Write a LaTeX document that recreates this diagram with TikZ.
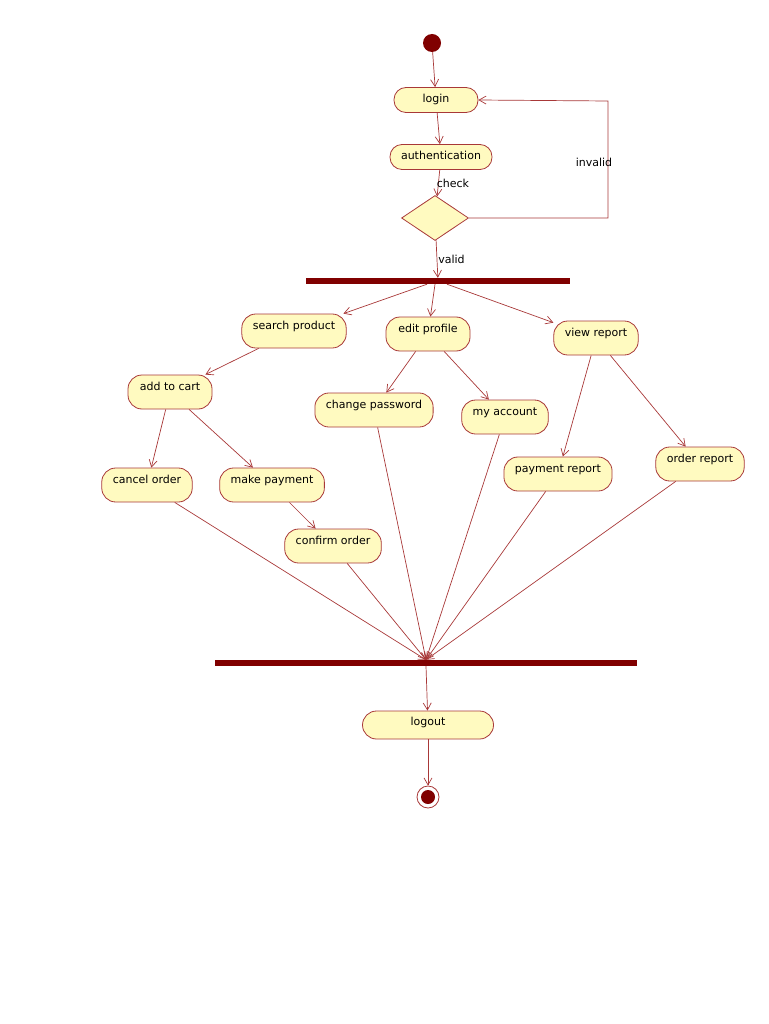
\documentclass[tikz,border=0pt]{standalone}
\usepackage{fontspec}
\setmainfont{DejaVu Sans}
\usetikzlibrary{arrows.meta, positioning, shapes.geometric}

\definecolor{actfill}{HTML}{FFFAC0}
\definecolor{linec}{HTML}{A83838}
\definecolor{barc}{HTML}{800000}

\tikzset{
  act/.style={draw=linec, fill=actfill, line width=0.8pt, rounded corners=14pt,
    minimum height=34pt, minimum width=84pt, inner xsep=11pt, inner ysep=0pt,
    text height=8pt, text depth=12pt, font=\fontsize{11}{13}\selectfont},
  low/.style={minimum height=25pt, rounded corners=12pt, text depth=2pt},
  bar/.style={fill=barc, inner sep=0pt, minimum height=6pt},
  flow/.style={color=linec, line width=0.7pt, -{Straight Barb[length=7pt,width=8pt]}},
  lbl/.style={font=\fontsize{11}{13}\selectfont, inner sep=1pt, text=black}
}

\begin{document}
\begin{tikzpicture}[x=1pt, y=-1pt, on grid]
    \useasboundingbox (0,0) rectangle (768,1024);
        \node[circle, fill=barc, minimum size=18pt, inner sep=0pt] (init) at (432,43) {};
        \node[act, low] (login) [below right=57pt and 4pt of init] {login};
        \node[act, low] (auth) [below right=57pt and 5pt of login] {authentication};
        \node[diamond, draw=linec, fill=actfill, line width=0.8pt, minimum width=67pt,
            minimum height=45pt, inner sep=0pt] (check) [below left=61pt and 6pt of auth] {};
        \node[bar, minimum width=264pt] (fork) [below right=63pt and 3pt of check] {};
        \node[act] (edit) [below left=53pt and 10pt of fork] {edit profile};
        \node[act] (search) [above left=3pt and 134pt of edit] {search product};
        \node[act] (view) [below right=4pt and 168pt of edit] {view report};
        \node[act] (cart) [below left=61pt and 124pt of search] {add to cart};
        \node[act] (cancel) [below left=93pt and 23pt of cart] {cancel order};
        \node[act] (pay) [below right=93pt and 102pt of cart] {make payment};
        \node[act] (confirm) [below right=61pt and 61pt of pay] {confirm order};
        \node[act] (passwd) [below left=76pt and 54pt of edit] {change password};
        \node[act] (account) [below right=83pt and 77pt of edit] {my account};
        \node[act] (payrep) [below left=136pt and 38pt of view] {payment report};
        \node[act] (ordrep) [below right=126pt and 104pt of view] {order report};
        \node[bar, minimum width=422pt] (join) [below left=382pt and 12pt of fork] {};
        \node[act, minimum height=28pt, minimum width=131pt, text depth=7pt] (logout)
            [below right=62pt and 2pt of join] {logout};
        \node[circle, draw=linec, fill=white, line width=0.8pt, minimum size=22pt,
            inner sep=0pt] (final) [below=72pt of logout] {};
        \fill[barc] (final) circle (7);
        \coordinate (loop) at (608,101);

        \path[flow]
        (init) edge (login)
        (login) edge (auth)
        (auth) edge node[right, lbl, xshift=-3pt] {check} (check)
        (check) edge node[right, lbl] {valid} (fork)
        ([xshift=-11pt]fork.south) edge (search)
        ([xshift=-3pt]fork.south) edge (edit)
        ([xshift=9pt]fork.south) edge (view)
        (search) edge (cart)
        (cart) edge (cancel)
            edge (pay)
        (pay) edge (confirm)
        (edit) edge (passwd)
            edge (account)
        (view) edge (payrep)
            edge (ordrep)
        (cancel) edge (join.north)
        (confirm) edge (join.north)
        (passwd) edge (join.north)
        (account) edge (join.north)
        (payrep) edge (join.north)
        (ordrep) edge (join.north)
        (join.south) edge (logout)
        (logout) edge (final);
        \draw[flow] (check.east) -- (check.east -| loop)
            -- node[lbl, xshift=-14pt, yshift=-3pt] {invalid} (loop) -- (login.east);
    \end{tikzpicture}
\end{document}
